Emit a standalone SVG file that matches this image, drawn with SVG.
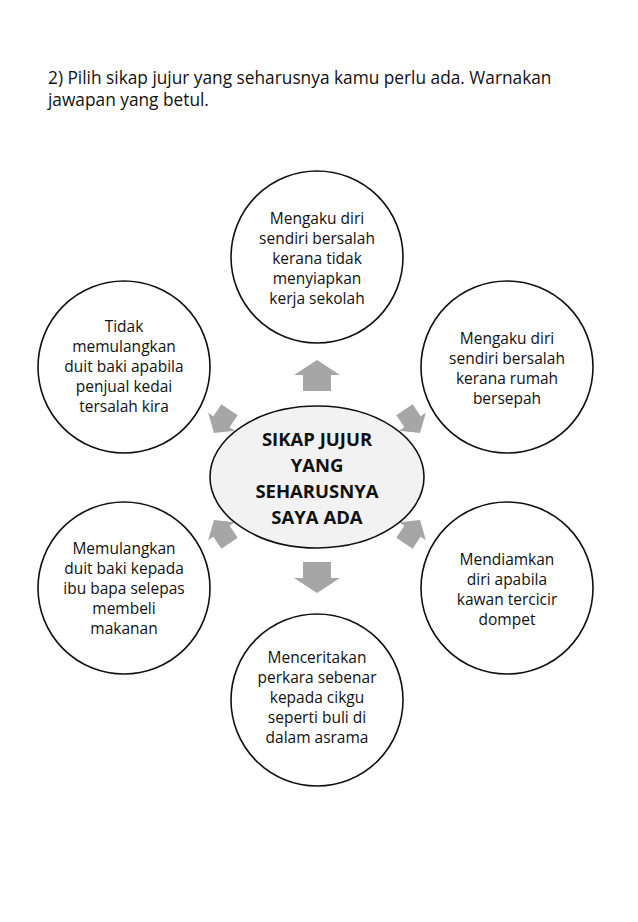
<svg xmlns="http://www.w3.org/2000/svg" width="638" height="922" viewBox="0 0 638 922">
<style>
text{font-family:"Open Sans","Liberation Sans",sans-serif;fill:#111}
.t{font-size:15.5px;text-anchor:middle}
.c{fill:#fff;stroke:#111;stroke-width:1.6}
.a{fill:#a6a6a6}
</style>
<defs><polygon id="ar" points="0,-16 23,-1 14,-1 14,15 -14,15 -14,-1 -23,-1"/></defs>
<rect width="638" height="922" fill="#fff"/>
<text x="48" y="84" font-size="17.3">2) Pilih sikap jujur yang seharusnya kamu perlu ada. Warnakan</text>
<text x="48" y="106" font-size="17.3">jawapan yang betul.</text>
<g id="connectors">
<use href="#ar" class="a" transform="translate(317,376)"/>
<use href="#ar" class="a" transform="translate(317,577) rotate(180)"/>
<use href="#ar" class="a" transform="translate(412,421) rotate(146) scale(0.7,0.9)"/>
<use href="#ar" class="a" transform="translate(222,421) rotate(-146) scale(0.7,0.9)"/>
<use href="#ar" class="a" transform="translate(412,532) rotate(34) scale(0.7,0.9)"/>
<use href="#ar" class="a" transform="translate(222,532) rotate(-34) scale(0.7,0.9)"/>
</g>
<g id="center"><ellipse cx="317" cy="477" rx="107" ry="71" fill="#f2f2f2" stroke="#111" stroke-width="1.6"/>
<text class="t" style="font-size:18.5px" font-weight="bold"><tspan x="317" y="446">SIKAP JUJUR</tspan><tspan x="317" y="472">YANG</tspan><tspan x="317" y="498">SEHARUSNYA</tspan><tspan x="317" y="524">SAYA ADA</tspan></text></g>
<g id="n1"><circle class="c" cx="317" cy="257" r="86"/>
<text class="t"><tspan x="317" y="224">Mengaku diri</tspan><tspan x="317" y="244">sendiri bersalah</tspan><tspan x="317" y="264">kerana tidak</tspan><tspan x="317" y="284">menyiapkan</tspan><tspan x="317" y="304">kerja sekolah</tspan></text></g>
<g id="n2"><circle class="c" cx="507" cy="367" r="86"/>
<text class="t"><tspan x="507" y="344">Mengaku diri</tspan><tspan x="507" y="364">sendiri bersalah</tspan><tspan x="507" y="384">kerana rumah</tspan><tspan x="507" y="404">bersepah</tspan></text></g>
<g id="n3"><circle class="c" cx="507" cy="588" r="86"/>
<text class="t"><tspan x="507" y="565">Mendiamkan</tspan><tspan x="507" y="585">diri apabila</tspan><tspan x="507" y="605">kawan tercicir</tspan><tspan x="507" y="625">dompet</tspan></text></g>
<g id="n4"><circle class="c" cx="317" cy="700" r="86"/>
<text class="t"><tspan x="317" y="663">Menceritakan</tspan><tspan x="317" y="683">perkara sebenar</tspan><tspan x="317" y="703">kepada cikgu</tspan><tspan x="317" y="723">seperti buli di</tspan><tspan x="317" y="743">dalam asrama</tspan></text></g>
<g id="n5"><circle class="c" cx="124" cy="588" r="86"/>
<text class="t"><tspan x="124" y="554">Memulangkan</tspan><tspan x="124" y="574">duit baki kepada</tspan><tspan x="124" y="594">ibu bapa selepas</tspan><tspan x="124" y="614">membeli</tspan><tspan x="124" y="634">makanan</tspan></text></g>
<g id="n6"><circle class="c" cx="124" cy="367" r="86"/>
<text class="t"><tspan x="124" y="332">Tidak</tspan><tspan x="124" y="352">memulangkan</tspan><tspan x="124" y="372">duit baki apabila</tspan><tspan x="124" y="392">penjual kedai</tspan><tspan x="124" y="412">tersalah kira</tspan></text></g>
</svg>
